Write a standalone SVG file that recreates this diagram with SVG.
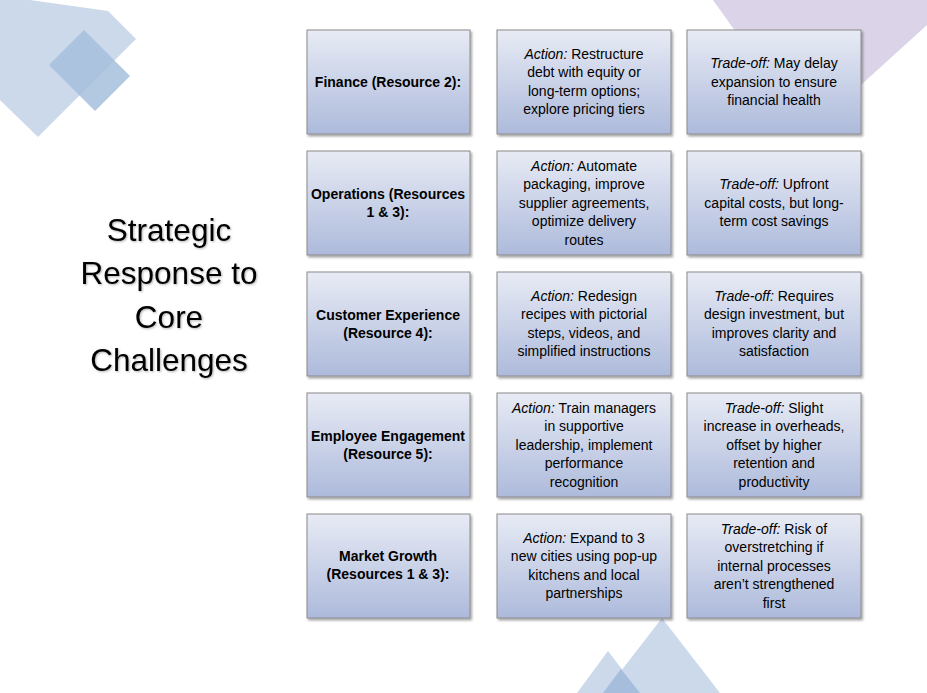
<svg xmlns="http://www.w3.org/2000/svg" width="927" height="693" viewBox="0 0 927 693">
<defs>
<linearGradient id="g" x1="0" y1="0" x2="0" y2="1"><stop offset="0" stop-color="#e8ebf5"/><stop offset="1" stop-color="#adbadb"/></linearGradient>
<filter id="sh" x="-10%" y="-10%" width="130%" height="130%"><feDropShadow dx="1.5" dy="2" stdDeviation="1.2" flood-color="#000" flood-opacity="0.35"/></filter>
<filter id="ts"><feDropShadow dx="1" dy="1" stdDeviation="0.8" flood-color="#000" flood-opacity="0.3"/></filter>
</defs>
<style>
.b{fill:url(#g);stroke:#8a8a8a;stroke-width:1;filter:url(#sh)}
text{font-family:"Liberation Sans",Arial,sans-serif;font-size:14px;fill:#000;text-anchor:middle}
.h{font-weight:bold}
.t{font-size:31.5px;filter:url(#ts)}
</style>
<g id="decor">
<polygon points="30,0 108,11 136,39 38,137 0,100 0,0" fill="#cbd9eb"/>
<polygon points="84,30 130,76 95,111 49,65" fill="#a6bedc" opacity="0.85"/>
<polygon points="713,0 927,0 927,25 808,133" fill="#dbd3e7"/>
<polygon points="662,618 720,693 604,693" fill="#cbd9eb"/>
<polygon points="608,651 640,693 577,693" fill="#cbd9eb"/>
<polygon points="621,669 640,693 603,693" fill="#a6bedc"/>
</g>
<g id="title">
<text class="t" x="169" y="241">Strategic</text>
<text class="t" x="169" y="284">Response to</text>
<text class="t" x="169" y="328">Core</text>
<text class="t" x="169" y="371">Challenges</text>
</g>
<g id="connectors"></g>
<g id="r1c1"><rect class="b" x="307" y="30" width="163" height="104"/><text class="h" x="388" y="87">Finance (Resource 2):</text></g>
<g id="r1c2"><rect class="b" x="497" y="30" width="174" height="104"/><text x="584" y="59"><tspan font-style="italic">Action:</tspan> Restructure</text><text x="584" y="77">debt with equity or</text><text x="584" y="96">long-term options;</text><text x="584" y="114">explore pricing tiers</text></g>
<g id="r1c3"><rect class="b" x="687" y="30" width="174" height="104"/><text x="774" y="68"><tspan font-style="italic">Trade-off:</tspan> May delay</text><text x="774" y="87">expansion to ensure</text><text x="774" y="105">financial health</text></g>
<g id="r2c1"><rect class="b" x="307" y="151" width="163" height="104"/><text class="h" x="388" y="199">Operations (Resources</text><text class="h" x="388" y="217">1 &amp; 3):</text></g>
<g id="r2c2"><rect class="b" x="497" y="151" width="174" height="104"/><text x="584" y="171"><tspan font-style="italic">Action:</tspan> Automate</text><text x="584" y="189">packaging, improve</text><text x="584" y="208">supplier agreements,</text><text x="584" y="226">optimize delivery</text><text x="584" y="245">routes</text></g>
<g id="r2c3"><rect class="b" x="687" y="151" width="174" height="104"/><text x="774" y="189"><tspan font-style="italic">Trade-off:</tspan> Upfront</text><text x="774" y="208">capital costs, but long-</text><text x="774" y="226">term cost savings</text></g>
<g id="r3c1"><rect class="b" x="307" y="272" width="163" height="104"/><text class="h" x="388" y="320">Customer Experience</text><text class="h" x="388" y="338">(Resource 4):</text></g>
<g id="r3c2"><rect class="b" x="497" y="272" width="174" height="104"/><text x="584" y="301"><tspan font-style="italic">Action:</tspan> Redesign</text><text x="584" y="319">recipes with pictorial</text><text x="584" y="338">steps, videos, and</text><text x="584" y="356">simplified instructions</text></g>
<g id="r3c3"><rect class="b" x="687" y="272" width="174" height="104"/><text x="774" y="301"><tspan font-style="italic">Trade-off:</tspan> Requires</text><text x="774" y="319">design investment, but</text><text x="774" y="338">improves clarity and</text><text x="774" y="356">satisfaction</text></g>
<g id="r4c1"><rect class="b" x="307" y="393" width="163" height="104"/><text class="h" x="388" y="441">Employee Engagement</text><text class="h" x="388" y="459">(Resource 5):</text></g>
<g id="r4c2"><rect class="b" x="497" y="393" width="174" height="104"/><text x="584" y="413"><tspan font-style="italic">Action:</tspan> Train managers</text><text x="584" y="431">in supportive</text><text x="584" y="450">leadership, implement</text><text x="584" y="468">performance</text><text x="584" y="487">recognition</text></g>
<g id="r4c3"><rect class="b" x="687" y="393" width="174" height="104"/><text x="774" y="413"><tspan font-style="italic">Trade-off:</tspan> Slight</text><text x="774" y="431">increase in overheads,</text><text x="774" y="450">offset by higher</text><text x="774" y="468">retention and</text><text x="774" y="487">productivity</text></g>
<g id="r5c1"><rect class="b" x="307" y="514" width="163" height="104"/><text class="h" x="388" y="561">Market Growth</text><text class="h" x="388" y="579">(Resources 1 &amp; 3):</text></g>
<g id="r5c2"><rect class="b" x="497" y="514" width="174" height="104"/><text x="584" y="543"><tspan font-style="italic">Action:</tspan> Expand to 3</text><text x="584" y="561">new cities using pop-up</text><text x="584" y="580">kitchens and local</text><text x="584" y="598">partnerships</text></g>
<g id="r5c3"><rect class="b" x="687" y="514" width="174" height="104"/><text x="774" y="534"><tspan font-style="italic">Trade-off:</tspan> Risk of</text><text x="774" y="552">overstretching if</text><text x="774" y="571">internal processes</text><text x="774" y="589">aren’t strengthened</text><text x="774" y="608">first</text></g>
</svg>
